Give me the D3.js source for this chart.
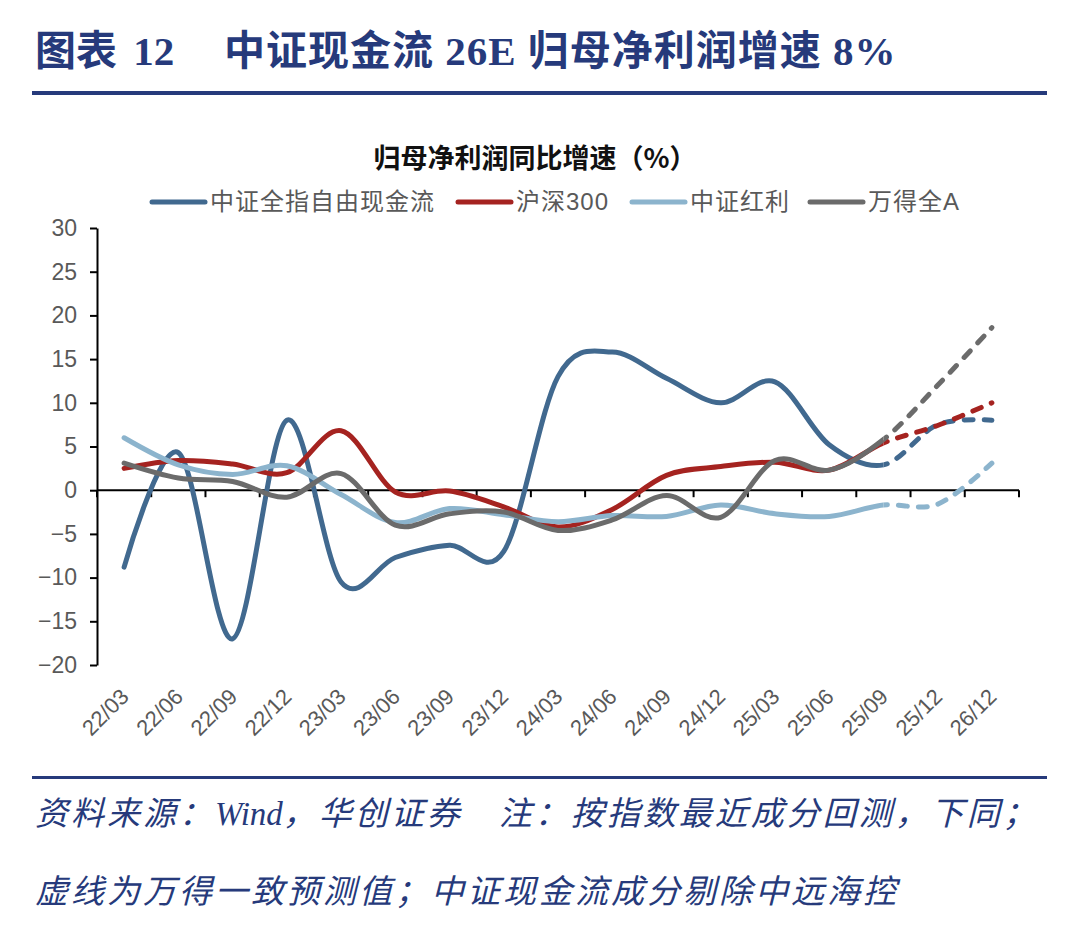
<!DOCTYPE html>
<html>
<head>
<meta charset="utf-8">
<script src="https://cdn.jsdelivr.net/npm/d3@7/dist/d3.min.js"></script>
<style>
  body { margin: 0; background: #fff; }
  svg { display: block; }
</style>
</head>
<body>
<svg id="chart" width="1080" height="937"></svg>
<script>
var categories = ['22/03', '22/06', '22/09', '22/12', '23/03', '23/06', '23/09', '23/12', '24/03', '24/06', '24/09', '24/12', '25/03', '25/06', '25/09', '25/12', '26/12']
var freeCashFlow = [-8.8, 4.3, -17.0, 8.0, -10.5, -7.7, -6.3, -7.0, 13.0, 15.8, 12.8, 10.0, 12.4, 5.2, 2.9, 7.5, 8.0]
var hs300 = [2.5, 3.4, 3.0, 2.0, 6.8, -0.2, -0.1, -1.9, -4.2, -2.2, 1.7, 2.7, 3.2, 2.3, 5.4, 7.4, 10.0]
var dividend = [6.0, 2.9, 1.8, 2.8, -0.5, -3.7, -2.1, -2.8, -3.6, -2.9, -3.0, -1.7, -2.7, -3.0, -1.7, -1.6, 3.1]
var windA = [3.1, 1.4, 1.0, -0.8, 1.9, -4.0, -2.7, -2.5, -4.6, -3.4, -0.6, -3.1, 3.4, 2.3, 5.8, 12.0, 18.6]
var yTicks = [-20, -15, -10, -5, 0, 5, 10, 15, 20, 25, 30]
var lastActual = '25/09'

var series = [
  { name: '中证全指自由现金流', values: freeCashFlow, color: '#41698f' },
  { name: '沪深300', values: hs300, color: '#a52320' },
  { name: '中证红利', values: dividend, color: '#8cb4cd' },
  { name: '万得全A', values: windA, color: '#6b6b6b' }
]

var navy = '#263a7b'
var svg = d3.select('#chart')

/** header */
svg.append('text').attr('x', 35).attr('y', 65).text('图表 12')
  .attr('font-family', "'Liberation Serif', 'Noto Sans CJK SC'").attr('font-weight', 'bold')
  .attr('font-size', 41).attr('word-spacing', 6).attr('fill', navy)
svg.append('text').attr('x', 224).attr('y', 65).text('中证现金流 26E 归母净利润增速 8%')
  .attr('font-family', "'Liberation Serif', 'Noto Sans CJK SC'").attr('font-weight', 'bold')
  .attr('font-size', 41).attr('letter-spacing', 1).attr('fill', navy)
svg.append('rect').attr('x', 32).attr('y', 91).attr('width', 1015).attr('height', 4).attr('fill', navy)

svg.append('text').attr('x', 535).attr('y', 168).attr('text-anchor', 'middle').text('归母净利润同比增速（%）')
  .attr('font-family', "'Noto Sans CJK SC'").attr('font-weight', 'bold').attr('font-size', 27).attr('fill', '#111')

/** scales */
var x = d3.scaleBand().domain(categories).range([97, 1019])
var y = d3.scaleLinear().domain([-20, 30]).range([665, 228])
var cx = function (c) { return x(c) + x.bandwidth() / 2 }

/** y axis */
var yAxis = svg.append('g').attr('transform', 'translate(97,0)')
  .call(d3.axisLeft(y).tickValues(yTicks).tickSize(7).tickSizeOuter(0).tickPadding(13))
yAxis.select('.domain').attr('stroke', '#000').attr('stroke-width', 2)
yAxis.selectAll('.tick line').attr('stroke', '#000').attr('stroke-width', 2)
yAxis.selectAll('.tick text').attr('font-family', "'Liberation Sans', Arial").attr('font-size', 23).attr('fill', '#595959')

/** x axis on zero line */
svg.append('line').attr('x1', 97).attr('x2', 1019).attr('y1', y(0)).attr('y2', y(0)).attr('stroke', '#000').attr('stroke-width', 2)
svg.selectAll('.xtick').data(d3.range(categories.length + 1)).enter().append('line').attr('class', 'xtick')
  .attr('x1', function (i) { return x(categories[0]) + i * x.step() })
  .attr('x2', function (i) { return x(categories[0]) + i * x.step() })
  .attr('y1', y(0)).attr('y2', y(0) + 7).attr('stroke', '#000').attr('stroke-width', 2)
svg.selectAll('.xlabel').data(categories).enter().append('text').attr('class', 'xlabel')
  .attr('transform', function (c) { return 'translate(' + (cx(c) + 6) + ',698) rotate(-45)' })
  .attr('text-anchor', 'end').text(function (c) { return c })
  .attr('font-family', "'Liberation Sans', Arial").attr('font-size', 22).attr('fill', '#595959')

/** lines: solid up to last actual, dashed forecast after */
var splitIndex = categories.indexOf(lastActual)
var splitX = cx(lastActual)
var defs = svg.append('defs')
defs.append('clipPath').attr('id', 'clipSolid').append('rect').attr('x', 0).attr('y', 0).attr('width', splitX).attr('height', 937)
defs.append('clipPath').attr('id', 'clipDash').append('rect').attr('x', splitX).attr('y', 0).attr('width', 1080 - splitX).attr('height', 937)

var line = d3.line()
  .x(function (d) { return cx(d.c) })
  .y(function (d) { return y(d.v) })
  .curve(d3.curveCardinal.tension(0))

series.forEach(function (s) {
  var pts = s.values.map(function (v, i) { return { c: categories[i], v: v } })
  svg.append('path').attr('d', line(pts)).attr('clip-path', 'url(#clipSolid)')
    .attr('fill', 'none').attr('stroke', s.color).attr('stroke-width', 5).attr('stroke-linecap', 'round')
  // forecast part: same curve from the point before the split, dash phase starts at the split
  var dash = svg.append('path').attr('d', line(pts.slice(splitIndex - 1))).attr('clip-path', 'url(#clipDash)')
    .attr('fill', 'none').attr('stroke', s.color).attr('stroke-width', 5).attr('stroke-linecap', 'round')
    .attr('stroke-dasharray', '9,11')
  var node = dash.node()
  var lo = 0
  var hi = node.getTotalLength()
  for (var k = 0; k < 30; k++) {
    var mid = (lo + hi) / 2
    if (node.getPointAtLength(mid).x < splitX) lo = mid
    else hi = mid
  }
  dash.attr('stroke-dashoffset', 9 - lo - 4)
})

/** legend */
var legendX = [152, 458, 632, 810]
series.forEach(function (s, i) {
  svg.append('line').attr('x1', legendX[i]).attr('x2', legendX[i] + 53).attr('y1', 202).attr('y2', 202)
    .attr('stroke', s.color).attr('stroke-width', 5).attr('stroke-linecap', 'round')
  svg.append('text').attr('x', legendX[i] + 58).attr('y', 210).text(s.name)
    .attr('font-family', "'Liberation Sans', 'Noto Sans CJK SC'").attr('font-size', 24).attr('letter-spacing', 1).attr('fill', '#595959')
})

/** footer */
svg.append('rect').attr('x', 32).attr('y', 776).attr('width', 1015).attr('height', 3).attr('fill', navy)
var note1 = svg.append('text').attr('x', 35).attr('y', 825)
  .attr('font-family', "'Liberation Serif', 'Noto Sans CJK SC'").attr('font-style', 'italic')
  .attr('font-size', 33).attr('letter-spacing', 3).attr('fill', navy)
note1.append('tspan').text('资料来源：')
note1.append('tspan').attr('letter-spacing', 0).text('Wind')
note1.append('tspan').text('，华创证券　注：按指数最近成分回测，下同；')
svg.append('text').attr('x', 35).attr('y', 903).text('虚线为万得一致预测值；中证现金流成分剔除中远海控')
  .attr('font-family', "'Liberation Serif', 'Noto Sans CJK SC'").attr('font-style', 'italic')
  .attr('font-size', 33).attr('letter-spacing', 3).attr('fill', navy)
</script>
</body>
</html>
